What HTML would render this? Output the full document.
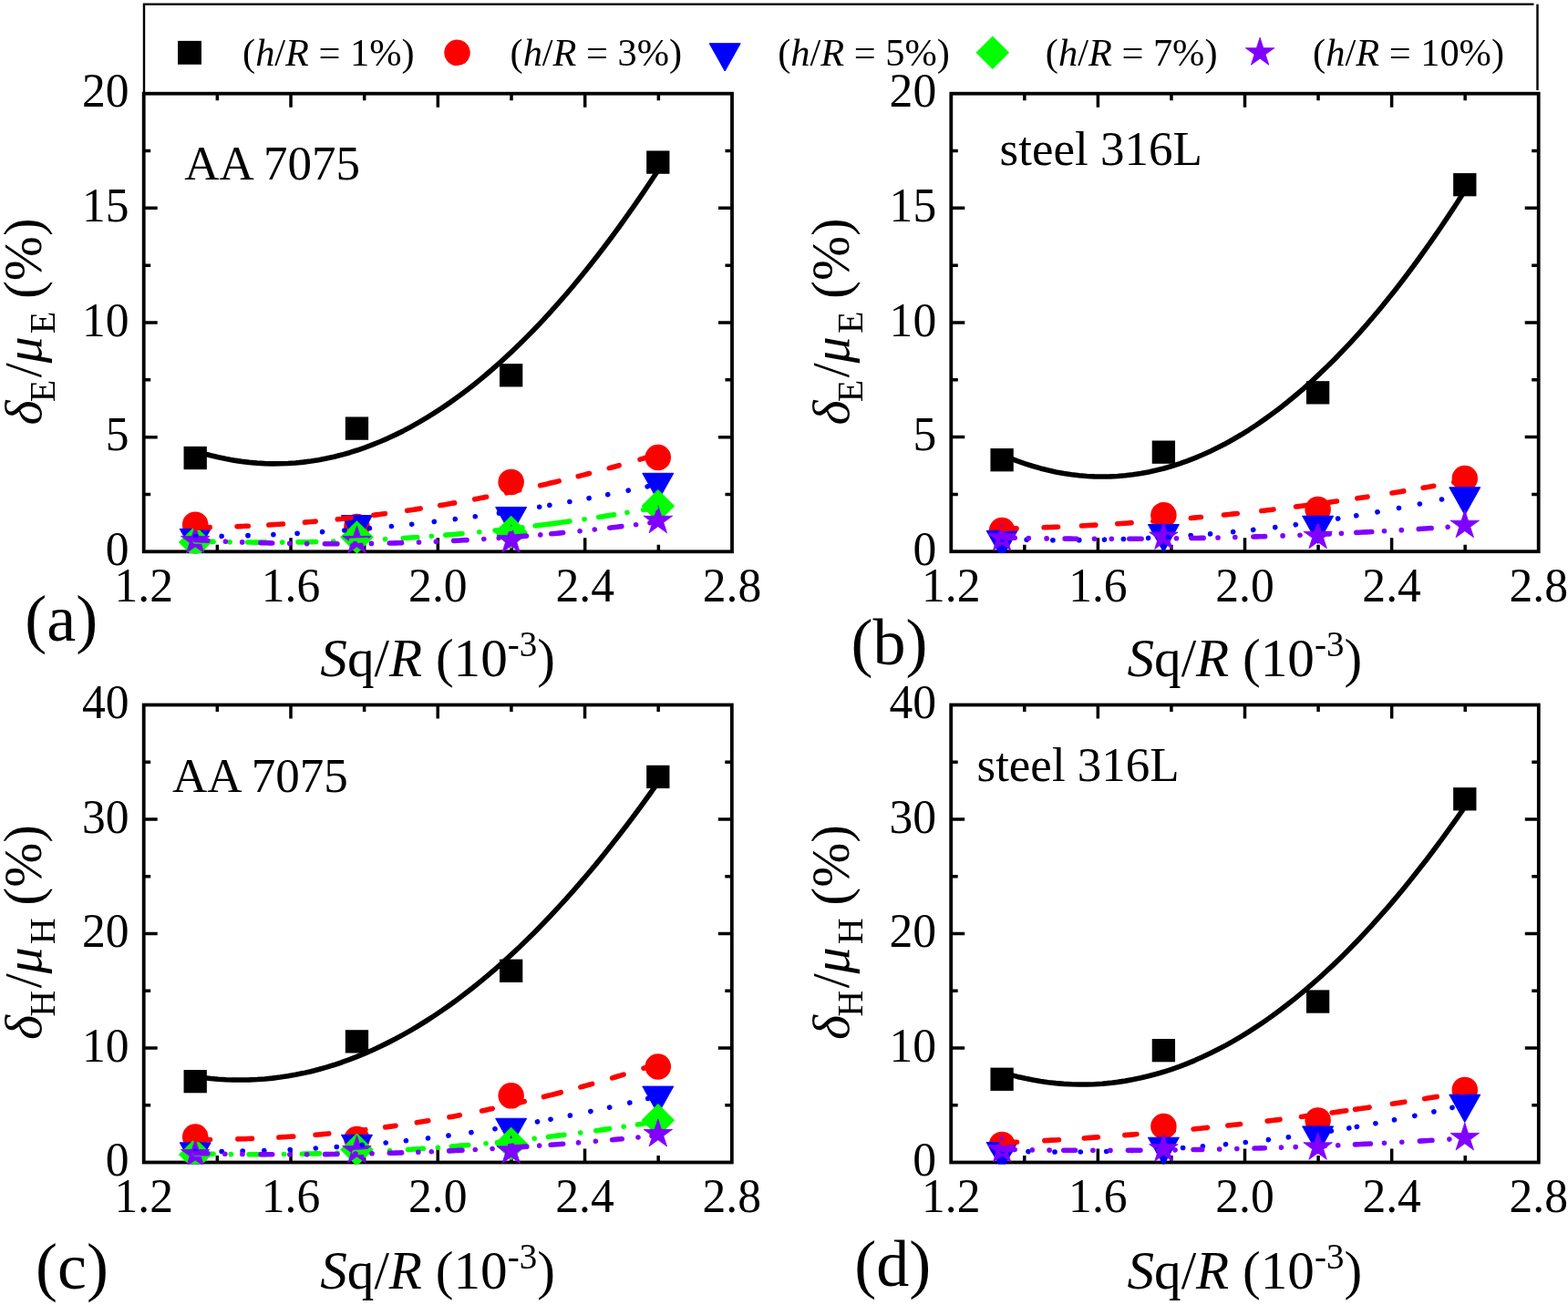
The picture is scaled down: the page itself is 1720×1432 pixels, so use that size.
<!DOCTYPE html>
<html lang="en"><head><meta charset="utf-8"><title>Figure</title>
<style>html,body{margin:0;padding:0;background:#fff}body{width:1720px;height:1432px;overflow:hidden}svg{display:block}text{font-family:'Liberation Serif', 'DejaVu Serif', serif;fill:#000}</style></head><body>
<svg width="1720" height="1432" viewBox="0 0 1720 1432">
<rect x="0" y="0" width="1720" height="1432" fill="#ffffff"/>
<g fill="none" stroke="#000" stroke-width="2.4">
<path d="M158,101 V4.6 H1682.5"/>
<path d="M1686.5,4.6 V99"/>
</g>
<rect x="195.05" y="44.85" width="25.9" height="25.9" fill="#000000"/>
<text x="266" y="72.2" font-size="42.4">(<tspan font-style="italic">h</tspan>/<tspan font-style="italic">R</tspan> = 1%)</text>
<circle cx="501.5" cy="57.8" r="14.25" fill="#ff0000"/>
<text x="559.5" y="72.2" font-size="42.4">(<tspan font-style="italic">h</tspan>/<tspan font-style="italic">R</tspan> = 3%)</text>
<polygon points="778.2,47.7 812.2,47.7 795.2,78" fill="#0000ff" stroke="#0000ff" stroke-width="1" stroke-linejoin="round"/>
<text x="853.2" y="72.2" font-size="42.4">(<tspan font-style="italic">h</tspan>/<tspan font-style="italic">R</tspan> = 5%)</text>
<polygon points="1070.5,57.8 1088.8,39.5 1107.1,57.8 1088.8,76.1" fill="#00ff00"/>
<text x="1146.8" y="72.2" font-size="42.4">(<tspan font-style="italic">h</tspan>/<tspan font-style="italic">R</tspan> = 7%)</text>
<polygon points="1382.1,41.2 1385.83,52.67 1397.89,52.67 1388.13,59.76 1391.86,71.23 1382.1,64.14 1372.34,71.23 1376.07,59.76 1366.31,52.67 1378.37,52.67" fill="#8000ff" stroke="#8000ff" stroke-width="0.8" stroke-linejoin="round"/>
<text x="1440.1" y="72.2" font-size="42.4">(<tspan font-style="italic">h</tspan>/<tspan font-style="italic">R</tspan> = 10%)</text>
<defs><clipPath id="clipa"><rect x="155.8" y="100.8" width="649.1" height="506.4"/></clipPath><clipPath id="clipb"><rect x="1041.4" y="100.8" width="648.2" height="506.3"/></clipPath><clipPath id="clipc"><rect x="155.8" y="771.6" width="648.9" height="505.8"/></clipPath><clipPath id="clipd"><rect x="1041.3" y="771.6" width="648.4" height="505.8"/></clipPath></defs>
<g id="plot-a">
<rect x="157.7" y="102.7" width="645.3" height="502.6" fill="#fff" stroke="#000" stroke-width="3.8"/>
<path d="M238.36,605.3 v-7.5 M238.36,102.7 v7.5 M319.02,605.3 v-15 M319.02,102.7 v15 M399.69,605.3 v-7.5 M399.69,102.7 v7.5 M480.35,605.3 v-15 M480.35,102.7 v15 M561.01,605.3 v-7.5 M561.01,102.7 v7.5 M641.68,605.3 v-15 M641.68,102.7 v15 M722.34,605.3 v-7.5 M722.34,102.7 v7.5 M157.7,542.47 h7.5 M803,542.47 h-7.5 M157.7,479.65 h15 M803,479.65 h-15 M157.7,416.82 h7.5 M803,416.82 h-7.5 M157.7,354 h15 M803,354 h-15 M157.7,291.17 h7.5 M803,291.17 h-7.5 M157.7,228.35 h15 M803,228.35 h-15 M157.7,165.52 h7.5 M803,165.52 h-7.5" stroke="#000" stroke-width="3.5" fill="none"/>
<text transform="translate(157.7,660.2) scale(1,1.025)" font-size="51.6" text-anchor="middle">1.2</text>
<text transform="translate(319.02,660.2) scale(1,1.025)" font-size="51.6" text-anchor="middle">1.6</text>
<text transform="translate(480.35,660.2) scale(1,1.025)" font-size="51.6" text-anchor="middle">2.0</text>
<text transform="translate(641.68,660.2) scale(1,1.025)" font-size="51.6" text-anchor="middle">2.4</text>
<text transform="translate(803,660.2) scale(1,1.025)" font-size="51.6" text-anchor="middle">2.8</text>
<text transform="translate(141.6,619.9) scale(1,1.025)" font-size="51.6" text-anchor="end">0</text>
<text transform="translate(141.6,494.25) scale(1,1.025)" font-size="51.6" text-anchor="end">5</text>
<text transform="translate(141.6,368.6) scale(1,1.025)" font-size="51.6" text-anchor="end">10</text>
<text transform="translate(141.6,242.95) scale(1,1.025)" font-size="51.6" text-anchor="end">15</text>
<text transform="translate(141.6,117.3) scale(1,1.025)" font-size="51.6" text-anchor="end">20</text>
<g clip-path="url(#clipa)">
<rect x="201.55" y="489.87" width="25.3" height="25.3" fill="#000000"/>
<rect x="378.81" y="457.45" width="25.3" height="25.3" fill="#000000"/>
<rect x="548.01" y="399.15" width="25.3" height="25.3" fill="#000000"/>
<rect x="709.15" y="165.44" width="25.3" height="25.3" fill="#000000"/>
<circle cx="214.2" cy="575.65" r="14.25" fill="#ff0000"/>
<circle cx="391.46" cy="577.91" r="14.25" fill="#ff0000"/>
<circle cx="560.66" cy="528.9" r="14.25" fill="#ff0000"/>
<circle cx="721.8" cy="502.02" r="14.25" fill="#ff0000"/>
<polygon points="197.2,580.37 231.2,580.37 214.2,610.67" fill="#0000ff" stroke="#0000ff" stroke-width="1" stroke-linejoin="round"/>
<polygon points="374.46,565.55 408.46,565.55 391.46,595.85" fill="#0000ff" stroke="#0000ff" stroke-width="1" stroke-linejoin="round"/>
<polygon points="543.66,556.5 577.66,556.5 560.66,586.8" fill="#0000ff" stroke="#0000ff" stroke-width="1" stroke-linejoin="round"/>
<polygon points="704.8,519.31 738.8,519.31 721.8,549.61" fill="#0000ff" stroke="#0000ff" stroke-width="1" stroke-linejoin="round"/>
<polygon points="195.9,595 214.2,576.7 232.5,595 214.2,613.3" fill="#00ff00"/>
<polygon points="373.16,589.47 391.46,571.17 409.76,589.47 391.46,607.77" fill="#00ff00"/>
<polygon points="542.36,583.94 560.66,565.64 578.96,583.94 560.66,602.24" fill="#00ff00"/>
<polygon points="703.5,555.29 721.8,536.99 740.1,555.29 721.8,573.59" fill="#00ff00"/>
<polygon points="214.2,576.89 217.93,588.36 229.99,588.36 220.23,595.45 223.96,606.92 214.2,599.83 204.44,606.92 208.17,595.45 198.41,588.36 210.47,588.36" fill="#8000ff" stroke="#8000ff" stroke-width="0.8" stroke-linejoin="round"/>
<polygon points="391.46,576.89 395.18,588.36 407.24,588.36 397.49,595.45 401.21,606.92 391.46,599.83 381.7,606.92 385.43,595.45 375.67,588.36 387.73,588.36" fill="#8000ff" stroke="#8000ff" stroke-width="0.8" stroke-linejoin="round"/>
<polygon points="560.66,576.13 564.38,587.6 576.44,587.61 566.69,594.69 570.41,606.16 560.66,599.08 550.9,606.16 554.63,594.69 544.87,587.61 556.93,587.6" fill="#8000ff" stroke="#8000ff" stroke-width="0.8" stroke-linejoin="round"/>
<polygon points="721.8,554.77 725.53,566.24 737.59,566.24 727.83,573.33 731.56,584.8 721.8,577.72 712.04,584.8 715.77,573.33 706.01,566.24 718.07,566.24" fill="#8000ff" stroke="#8000ff" stroke-width="0.8" stroke-linejoin="round"/>
<polyline points="214.2,494.87 222.66,497.44 231.12,499.75 239.58,501.8 248.04,503.59 256.5,505.12 264.96,506.38 273.42,507.39 281.88,508.13 290.34,508.62 298.8,508.84 307.26,508.8 315.72,508.5 324.18,507.94 332.64,507.12 341.1,506.03 349.56,504.69 358.02,503.08 366.48,501.21 374.94,499.08 383.4,496.69 391.86,494.04 400.32,491.13 408.78,487.96 417.24,484.52 425.7,480.83 434.16,476.87 442.62,472.65 451.08,468.17 459.54,463.43 468,458.43 476.46,453.16 484.92,447.64 493.38,441.86 501.84,435.81 510.3,429.5 518.76,422.93 527.22,416.1 535.68,409.01 544.14,401.66 552.6,394.04 561.06,386.17 569.52,378.03 577.98,369.63 586.44,360.98 594.9,352.06 603.36,342.88 611.82,333.43 620.28,323.73 628.74,313.77 637.2,303.54 645.66,293.05 654.12,282.3 662.58,271.3 671.04,260.03 679.5,248.49 687.96,236.7 696.42,224.65 704.88,212.33 713.34,199.75 721.8,186.92" fill="none" stroke="#000000" stroke-width="5.6" stroke-linecap="round" stroke-linejoin="round"/>
<path d="M214.4,578.95 L218.35,578.89 L222.3,578.82 L226.25,578.74 L230.2,578.66 M260.1,577.71 L263.15,577.59 L266.2,577.46 L269.25,577.32 L272.3,577.18 M294.9,575.97 L298.8,575.73 L302.7,575.49 L306.6,575.23 L310.5,574.97 M334.4,573.15 L338.37,572.82 L342.33,572.48 L346.3,572.13 M370.2,569.83 L373.9,569.44 L377.6,569.05 L381.3,568.65 L385,568.24 M409.8,565.3 L412.95,564.9 L416.1,564.49 L419.25,564.08 L422.4,563.67 M446.6,560.28 L450.25,559.74 L453.9,559.19 L457.55,558.64 L461.2,558.08 M482.7,554.61 L486.67,553.94 L490.65,553.26 L494.62,552.57 L498.6,551.87 M520.7,547.83 L523.92,547.22 L527.15,546.6 L530.38,545.97 L533.6,545.34 M555.8,540.84 L559.27,540.1 L562.75,539.37 L566.23,538.62 L569.7,537.87 M592.6,532.74 L596.03,531.95 L599.47,531.15 L602.9,530.34 L606.33,529.53 L609.77,528.71 L613.2,527.88 M634.2,522.67 L637.27,521.88 L640.35,521.09 L643.42,520.3 L646.5,519.5 M668.3,513.66 L671.9,512.68 L675.5,511.68 L679.1,510.68 M702,504.12 L705.55,503.07 L709.1,502.02 L712.65,500.96 L716.2,499.9" fill="none" stroke="#ff0000" stroke-width="5.6" stroke-linecap="round" stroke-linejoin="round"/>
<path d="M214.65,588.81 L214.75,588.81 M243.15,588.41 L243.25,588.4 M271.95,587.65 L272.05,587.65 M299.85,586.6 L299.95,586.59 M326.05,585.31 L326.15,585.31 M353.55,583.66 L353.65,583.65 M377.85,581.93 L377.95,581.93 M405.35,579.69 L405.45,579.68 M429.35,577.47 L429.45,577.46 M451.65,575.2 L451.75,575.19 M476.25,572.46 L476.35,572.44 M499.25,569.66 L499.35,569.65 M521.25,566.78 L521.35,566.77 M547.45,563.1 L547.55,563.08 M569.45,559.78 L569.55,559.77 M591.65,556.23 L591.75,556.22 M602.85,554.36 L602.95,554.35 M624.85,550.54 L624.95,550.53 M646.05,546.67 L646.15,546.65 M666.65,542.73 L666.75,542.71 M689.15,538.23 L689.25,538.21 M710.15,533.84 L710.25,533.81" fill="none" stroke="#0000ff" stroke-width="5.6" stroke-linecap="round" stroke-linejoin="round"/>
<path d="M214.4,593.85 L218.32,593.97 L222.24,594.09 L226.16,594.21 L230.08,594.31 L234,594.41 M251.95,594.79 L252.05,594.79 M271.7,595.04 L275.6,595.07 L279.5,595.1 L283.4,595.12 L287.3,595.13 L291.2,595.14 M309.65,595.08 L309.75,595.08 M327.1,594.89 L331,594.83 L334.9,594.77 L338.8,594.7 L342.7,594.62 L346.6,594.53 M365.65,594.03 L365.75,594.03 M385.5,593.34 L388.8,593.21 L392.1,593.08 L395.4,592.94 L398.7,592.79 L402,592.64 M422.55,591.62 L422.65,591.61 M442.4,590.46 L446.25,590.21 L450.1,589.96 L453.95,589.71 L457.8,589.44 M473.35,588.32 L473.45,588.31 M488.7,587.11 L492.36,586.81 L496.02,586.5 L499.68,586.18 L503.34,585.87 L507,585.54 M525.75,583.79 L525.85,583.78 M543,582.04 L546.44,581.68 L549.88,581.31 L553.32,580.94 L556.76,580.56 L560.2,580.18 M572.95,578.72 L573.05,578.71 M587.1,577.02 L590.89,576.55 L594.68,576.07 L598.47,575.59 L602.26,575.1 L606.05,574.61 L609.84,574.11 L613.63,573.6 L617.42,573.09 L621.21,572.57 L625,572.05 M641.05,569.76 L641.15,569.75 M656.7,567.43 L660.08,566.91 L663.46,566.39 L666.84,565.86 L670.22,565.33 L673.6,564.79 M687.85,562.48 L687.95,562.46 M705.6,559.48 L709,558.89 L712.4,558.29 L715.8,557.69 L719.2,557.09" fill="none" stroke="#00ff00" stroke-width="5.6" stroke-linecap="round" stroke-linejoin="round"/>
<path d="M214.4,592.5 L217.75,592.69 L221.1,592.88 L224.45,593.06 L227.8,593.23 M247.35,594.17 L247.45,594.18 M265.65,594.92 L265.75,594.92 M286,595.6 L289.18,595.69 L292.35,595.78 L295.52,595.87 L298.7,595.95 M317.65,596.35 L317.75,596.35 M336.55,596.62 L336.65,596.62 M356.4,596.75 L359.78,596.76 L363.15,596.76 L366.52,596.76 L369.9,596.76 M389.45,596.64 L389.55,596.64 M407.35,596.41 L407.45,596.41 M427.3,596.01 L430.6,595.93 L433.9,595.84 L437.2,595.75 L440.5,595.66 M459.45,595.04 L459.55,595.04 M478.35,594.29 L478.45,594.29 M497.7,593.39 L501.27,593.2 L504.85,593.01 L508.42,592.82 L512,592.62 M530.75,591.51 L530.85,591.5 M547.15,590.42 L547.25,590.41 M564.8,589.14 L568,588.89 L571.2,588.64 L574.4,588.39 L577.6,588.13 M592.75,586.86 L592.85,586.85 M604.7,585.8 L607.95,585.5 L611.2,585.2 L614.45,584.89 L617.7,584.58 M636.05,582.76 L636.15,582.75 M652.25,581.04 L652.35,581.03 M668.7,579.19 L672,578.81 L675.3,578.42 L678.6,578.03 L681.9,577.63 M697.55,575.7 L697.65,575.69 M712.95,573.71 L713.05,573.7" fill="none" stroke="#8000ff" stroke-width="5.6" stroke-linecap="round" stroke-linejoin="round"/>
</g>
<text x="480.15" y="742.4" font-size="59.2" text-anchor="middle"><tspan font-style="italic">S</tspan>q/<tspan font-style="italic">R</tspan> (10<tspan font-size="39" dy="-22">-3</tspan><tspan dy="22">)</tspan></text>
<text transform="translate(45,466.5) rotate(-90)" font-size="58"><tspan x="0" font-style="italic">δ</tspan><tspan x="25.27" y="15.2" font-size="40">E</tspan><tspan x="52.31" y="0">/</tspan><tspan x="68.03" y="0" font-style="italic">μ</tspan><tspan x="100.35" y="15.2" font-size="40">E</tspan><tspan x="138.69" y="0" font-size="59">(%)</tspan></text>
</g>
<g id="plot-b">
<rect x="1043.3" y="102.7" width="644.4" height="502.5" fill="#fff" stroke="#000" stroke-width="3.8"/>
<path d="M1123.85,605.2 v-7.5 M1123.85,102.7 v7.5 M1204.4,605.2 v-15 M1204.4,102.7 v15 M1284.95,605.2 v-7.5 M1284.95,102.7 v7.5 M1365.5,605.2 v-15 M1365.5,102.7 v15 M1446.05,605.2 v-7.5 M1446.05,102.7 v7.5 M1526.6,605.2 v-15 M1526.6,102.7 v15 M1607.15,605.2 v-7.5 M1607.15,102.7 v7.5 M1043.3,542.39 h7.5 M1687.7,542.39 h-7.5 M1043.3,479.58 h15 M1687.7,479.58 h-15 M1043.3,416.76 h7.5 M1687.7,416.76 h-7.5 M1043.3,353.95 h15 M1687.7,353.95 h-15 M1043.3,291.14 h7.5 M1687.7,291.14 h-7.5 M1043.3,228.32 h15 M1687.7,228.32 h-15 M1043.3,165.51 h7.5 M1687.7,165.51 h-7.5" stroke="#000" stroke-width="3.5" fill="none"/>
<text transform="translate(1043.3,660.1) scale(1,1.025)" font-size="51.6" text-anchor="middle">1.2</text>
<text transform="translate(1204.4,660.1) scale(1,1.025)" font-size="51.6" text-anchor="middle">1.6</text>
<text transform="translate(1365.5,660.1) scale(1,1.025)" font-size="51.6" text-anchor="middle">2.0</text>
<text transform="translate(1526.6,660.1) scale(1,1.025)" font-size="51.6" text-anchor="middle">2.4</text>
<text transform="translate(1687.7,660.1) scale(1,1.025)" font-size="51.6" text-anchor="middle">2.8</text>
<text transform="translate(1027.2,619.8) scale(1,1.025)" font-size="51.6" text-anchor="end">0</text>
<text transform="translate(1027.2,494.18) scale(1,1.025)" font-size="51.6" text-anchor="end">5</text>
<text transform="translate(1027.2,368.55) scale(1,1.025)" font-size="51.6" text-anchor="end">10</text>
<text transform="translate(1027.2,242.92) scale(1,1.025)" font-size="51.6" text-anchor="end">15</text>
<text transform="translate(1027.2,117.3) scale(1,1.025)" font-size="51.6" text-anchor="end">20</text>
<g clip-path="url(#clipb)">
<rect x="1086.45" y="492.05" width="25.3" height="25.3" fill="#000000"/>
<rect x="1263.74" y="483.51" width="25.3" height="25.3" fill="#000000"/>
<rect x="1432.98" y="418.18" width="25.3" height="25.3" fill="#000000"/>
<rect x="1594.15" y="190.05" width="25.3" height="25.3" fill="#000000"/>
<circle cx="1099.1" cy="582.09" r="14.25" fill="#ff0000"/>
<circle cx="1276.39" cy="565.25" r="14.25" fill="#ff0000"/>
<circle cx="1445.63" cy="558.97" r="14.25" fill="#ff0000"/>
<circle cx="1606.8" cy="525.05" r="14.25" fill="#ff0000"/>
<polygon points="1082.1,582.29 1116.1,582.29 1099.1,612.59" fill="#0000ff" stroke="#0000ff" stroke-width="1" stroke-linejoin="round"/>
<polygon points="1259.39,575.5 1293.39,575.5 1276.39,605.8" fill="#0000ff" stroke="#0000ff" stroke-width="1" stroke-linejoin="round"/>
<polygon points="1428.63,566.21 1462.63,566.21 1445.63,596.51" fill="#0000ff" stroke="#0000ff" stroke-width="1" stroke-linejoin="round"/>
<polygon points="1589.8,534.8 1623.8,534.8 1606.8,565.1" fill="#0000ff" stroke="#0000ff" stroke-width="1" stroke-linejoin="round"/>
<polygon points="1099.1,574.03 1102.83,585.5 1114.89,585.5 1105.13,592.59 1108.86,604.06 1099.1,596.97 1089.34,604.06 1093.07,592.59 1083.31,585.5 1095.37,585.5" fill="#8000ff" stroke="#8000ff" stroke-width="0.8" stroke-linejoin="round"/>
<polygon points="1276.39,572.52 1280.12,583.99 1292.18,583.99 1282.42,591.08 1286.15,602.55 1276.39,595.46 1266.63,602.55 1270.36,591.08 1260.6,583.99 1272.66,583.99" fill="#8000ff" stroke="#8000ff" stroke-width="0.8" stroke-linejoin="round"/>
<polygon points="1445.63,571.77 1449.35,583.24 1461.41,583.24 1451.66,590.33 1455.38,601.8 1445.63,594.71 1435.87,601.8 1439.59,590.33 1429.84,583.24 1441.9,583.24" fill="#8000ff" stroke="#8000ff" stroke-width="0.8" stroke-linejoin="round"/>
<polygon points="1606.8,559.71 1610.53,571.18 1622.59,571.18 1612.83,578.27 1616.56,589.74 1606.8,582.65 1597.04,589.74 1600.77,578.27 1591.01,571.18 1603.07,571.18" fill="#8000ff" stroke="#8000ff" stroke-width="0.8" stroke-linejoin="round"/>
<polyline points="1099.1,499.01 1107.56,502.56 1116.02,505.83 1124.48,508.82 1132.95,511.52 1141.41,513.93 1149.87,516.06 1158.33,517.91 1166.79,519.48 1175.25,520.76 1183.72,521.75 1192.18,522.46 1200.64,522.89 1209.1,523.03 1217.56,522.89 1226.02,522.47 1234.49,521.76 1242.95,520.76 1251.41,519.49 1259.87,517.92 1268.33,516.08 1276.79,513.95 1285.26,511.53 1293.72,508.84 1302.18,505.85 1310.64,502.59 1319.1,499.04 1327.56,495.2 1336.03,491.08 1344.49,486.68 1352.95,481.99 1361.41,477.02 1369.87,471.77 1378.34,466.23 1386.8,460.4 1395.26,454.29 1403.72,447.9 1412.18,441.23 1420.64,434.27 1429.11,427.02 1437.57,419.49 1446.03,411.68 1454.49,403.59 1462.95,395.2 1471.41,386.54 1479.88,377.59 1488.34,368.36 1496.8,358.84 1505.26,349.04 1513.72,338.95 1522.18,328.58 1530.64,317.93 1539.11,306.99 1547.57,295.77 1556.03,284.26 1564.49,272.47 1572.95,260.4 1581.41,248.04 1589.88,235.4 1598.34,222.47 1606.8,209.26" fill="none" stroke="#000000" stroke-width="5.6" stroke-linecap="round" stroke-linejoin="round"/>
<path d="M1099.7,580.23 L1103.53,580.14 L1107.35,580.04 L1111.17,579.94 L1115,579.83 M1145.2,578.81 L1149.03,578.66 L1152.85,578.51 L1156.67,578.35 L1160.5,578.19 M1186.5,576.95 L1190.33,576.76 L1194.15,576.55 L1197.97,576.34 L1201.8,576.13 M1225.8,574.68 L1229.62,574.43 L1233.45,574.18 L1237.28,573.93 L1241.1,573.66 M1264.8,571.94 L1268.65,571.64 L1272.5,571.34 L1276.35,571.04 L1280.2,570.72 M1306.3,568.49 L1310.03,568.16 L1313.77,567.81 L1317.5,567.47 M1342.4,565.05 L1346.12,564.67 L1349.85,564.28 L1353.57,563.9 L1357.3,563.5 M1383.8,560.58 L1387.1,560.21 L1390.4,559.82 L1393.7,559.44 L1397,559.05 M1421.5,556.05 L1424.67,555.64 L1427.85,555.24 L1431.03,554.83 L1434.2,554.42 M1454.8,551.66 L1458.7,551.13 L1462.6,550.59 L1466.5,550.04 M1488.8,546.82 L1492.53,546.27 L1496.27,545.71 L1500,545.15 M1527,540.95 L1530.2,540.43 L1533.4,539.92 L1536.6,539.4 L1539.8,538.87 M1561.1,535.31 L1564.97,534.65 L1568.83,533.98 L1572.7,533.31 M1594.8,529.37 L1597.93,528.8 L1601.07,528.23 L1604.2,527.65" fill="none" stroke="#ff0000" stroke-width="5.6" stroke-linecap="round" stroke-linejoin="round"/>
<path d="M1099.75,591.63 L1099.85,591.63 M1126.15,592.34 L1126.25,592.34 M1154.85,592.7 L1154.95,592.7 M1183.65,592.63 L1183.75,592.63 M1211.45,592.17 L1211.55,592.16 M1232.35,591.55 L1232.45,591.55 M1259.55,590.42 L1259.65,590.41 M1281.35,589.23 L1281.45,589.22 M1306.15,587.58 L1306.25,587.58 M1327.55,585.91 L1327.65,585.9 M1352.65,583.64 L1352.75,583.63 M1374.65,581.39 L1374.75,581.37 M1398.75,578.63 L1398.85,578.62 M1421.25,575.79 L1421.35,575.77 M1444.45,572.58 L1444.55,572.57 M1467.65,569.1 L1467.75,569.08 M1487.75,565.86 L1487.85,565.84 M1510.95,561.86 L1511.05,561.84 M1534.45,557.52 L1534.55,557.5 M1557.35,553.02 L1557.45,553 M1581.45,548 L1581.55,547.98 M1603.95,543.03 L1604.05,543.01" fill="none" stroke="#0000ff" stroke-width="5.6" stroke-linecap="round" stroke-linejoin="round"/>
<path d="M1099.7,590.04 L1103.08,590.12 L1106.45,590.19 L1109.83,590.26 L1113.2,590.32 M1128.25,590.6 L1128.35,590.6 M1148.05,590.89 L1148.15,590.89 M1168.2,591.11 L1171.38,591.14 L1174.55,591.17 L1177.73,591.19 L1180.9,591.21 M1200.45,591.31 L1200.55,591.31 M1219.25,591.33 L1219.35,591.33 M1238.8,591.29 L1242.12,591.27 L1245.45,591.26 L1248.78,591.24 L1252.1,591.22 M1271.95,591.05 L1272.05,591.05 M1290.45,590.82 L1290.55,590.82 M1306.9,590.57 L1310.2,590.51 L1313.5,590.45 L1316.8,590.39 L1320.1,590.33 M1335.95,589.99 L1336.05,589.99 M1354.75,589.54 L1354.85,589.54 M1374.9,588.98 L1378.07,588.88 L1381.25,588.78 L1384.43,588.68 L1387.6,588.58 M1407.05,587.92 L1407.15,587.92 M1425.95,587.21 L1426.05,587.2 M1445.8,586.39 L1448.9,586.25 L1452,586.12 L1455.1,585.98 L1458.2,585.84 M1471.35,585.22 L1471.45,585.22 M1487.8,584.41 L1491.18,584.24 L1494.56,584.06 L1497.94,583.88 L1501.32,583.7 L1504.7,583.52 M1518.45,582.75 L1518.55,582.75 M1537.25,581.65 L1537.35,581.65 M1556.3,580.47 L1559.75,580.25 L1563.2,580.02 L1566.65,579.79 L1570.1,579.57 M1588.05,578.34 L1588.15,578.33 M1602.95,577.28 L1603.05,577.27" fill="none" stroke="#8000ff" stroke-width="5.6" stroke-linecap="round" stroke-linejoin="round"/>
</g>
<text x="1365.3" y="742.3" font-size="59.2" text-anchor="middle"><tspan font-style="italic">S</tspan>q/<tspan font-style="italic">R</tspan> (10<tspan font-size="39" dy="-22">-3</tspan><tspan dy="22">)</tspan></text>
<text transform="translate(930.6,466.45) rotate(-90)" font-size="58"><tspan x="0" font-style="italic">δ</tspan><tspan x="25.27" y="15.2" font-size="40">E</tspan><tspan x="52.31" y="0">/</tspan><tspan x="68.03" y="0" font-style="italic">μ</tspan><tspan x="100.35" y="15.2" font-size="40">E</tspan><tspan x="138.69" y="0" font-size="59">(%)</tspan></text>
</g>
<g id="plot-c">
<rect x="157.7" y="773.5" width="645.1" height="502" fill="#fff" stroke="#000" stroke-width="3.8"/>
<path d="M238.34,1275.5 v-7.5 M238.34,773.5 v7.5 M318.98,1275.5 v-15 M318.98,773.5 v15 M399.61,1275.5 v-7.5 M399.61,773.5 v7.5 M480.25,1275.5 v-15 M480.25,773.5 v15 M560.89,1275.5 v-7.5 M560.89,773.5 v7.5 M641.53,1275.5 v-15 M641.53,773.5 v15 M722.16,1275.5 v-7.5 M722.16,773.5 v7.5 M157.7,1212.75 h7.5 M802.8,1212.75 h-7.5 M157.7,1150 h15 M802.8,1150 h-15 M157.7,1087.25 h7.5 M802.8,1087.25 h-7.5 M157.7,1024.5 h15 M802.8,1024.5 h-15 M157.7,961.75 h7.5 M802.8,961.75 h-7.5 M157.7,899 h15 M802.8,899 h-15 M157.7,836.25 h7.5 M802.8,836.25 h-7.5" stroke="#000" stroke-width="3.5" fill="none"/>
<text transform="translate(157.7,1330.4) scale(1,1.025)" font-size="51.6" text-anchor="middle">1.2</text>
<text transform="translate(318.98,1330.4) scale(1,1.025)" font-size="51.6" text-anchor="middle">1.6</text>
<text transform="translate(480.25,1330.4) scale(1,1.025)" font-size="51.6" text-anchor="middle">2.0</text>
<text transform="translate(641.53,1330.4) scale(1,1.025)" font-size="51.6" text-anchor="middle">2.4</text>
<text transform="translate(802.8,1330.4) scale(1,1.025)" font-size="51.6" text-anchor="middle">2.8</text>
<text transform="translate(141.6,1290.1) scale(1,1.025)" font-size="51.6" text-anchor="end">0</text>
<text transform="translate(141.6,1164.6) scale(1,1.025)" font-size="51.6" text-anchor="end">10</text>
<text transform="translate(141.6,1039.1) scale(1,1.025)" font-size="51.6" text-anchor="end">20</text>
<text transform="translate(141.6,913.6) scale(1,1.025)" font-size="51.6" text-anchor="end">30</text>
<text transform="translate(141.6,788.1) scale(1,1.025)" font-size="51.6" text-anchor="end">40</text>
<g clip-path="url(#clipc)">
<rect x="201.55" y="1174" width="25.3" height="25.3" fill="#000000"/>
<rect x="378.81" y="1130.2" width="25.3" height="25.3" fill="#000000"/>
<rect x="548.01" y="1052.64" width="25.3" height="25.3" fill="#000000"/>
<rect x="709.15" y="839.79" width="25.3" height="25.3" fill="#000000"/>
<circle cx="214.2" cy="1247.51" r="14.25" fill="#ff0000"/>
<circle cx="391.46" cy="1250.02" r="14.25" fill="#ff0000"/>
<circle cx="560.66" cy="1202.33" r="14.25" fill="#ff0000"/>
<circle cx="721.8" cy="1170.46" r="14.25" fill="#ff0000"/>
<polygon points="197.2,1253.85 231.2,1253.85 214.2,1284.15" fill="#0000ff" stroke="#0000ff" stroke-width="1" stroke-linejoin="round"/>
<polygon points="374.46,1245.32 408.46,1245.32 391.46,1275.62" fill="#0000ff" stroke="#0000ff" stroke-width="1" stroke-linejoin="round"/>
<polygon points="543.66,1227.25 577.66,1227.25 560.66,1257.55" fill="#0000ff" stroke="#0000ff" stroke-width="1" stroke-linejoin="round"/>
<polygon points="704.8,1192.11 738.8,1192.11 721.8,1222.41" fill="#0000ff" stroke="#0000ff" stroke-width="1" stroke-linejoin="round"/>
<polygon points="195.9,1266.97 214.2,1248.67 232.5,1266.97 214.2,1285.27" fill="#00ff00"/>
<polygon points="373.16,1261.44 391.46,1243.14 409.76,1261.44 391.46,1279.74" fill="#00ff00"/>
<polygon points="542.36,1255.04 560.66,1236.74 578.96,1255.04 560.66,1273.34" fill="#00ff00"/>
<polygon points="703.5,1229.32 721.8,1211.02 740.1,1229.32 721.8,1247.62" fill="#00ff00"/>
<polygon points="214.2,1249.99 217.93,1261.46 229.99,1261.46 220.23,1268.55 223.96,1280.02 214.2,1272.93 204.44,1280.02 208.17,1268.55 198.41,1261.46 210.47,1261.46" fill="#8000ff" stroke="#8000ff" stroke-width="0.8" stroke-linejoin="round"/>
<polygon points="391.46,1245.97 395.18,1257.44 407.24,1257.44 397.49,1264.53 401.21,1276 391.46,1268.91 381.7,1276 385.43,1264.53 375.67,1257.44 387.73,1257.44" fill="#8000ff" stroke="#8000ff" stroke-width="0.8" stroke-linejoin="round"/>
<polygon points="560.66,1246.35 564.38,1257.82 576.44,1257.82 566.69,1264.91 570.41,1276.38 560.66,1269.29 550.9,1276.38 554.63,1264.91 544.87,1257.82 556.93,1257.82" fill="#8000ff" stroke="#8000ff" stroke-width="0.8" stroke-linejoin="round"/>
<polygon points="721.8,1227.9 725.53,1239.37 737.59,1239.37 727.83,1246.46 731.56,1257.93 721.8,1250.84 712.04,1257.93 715.77,1246.46 706.01,1239.37 718.07,1239.37" fill="#8000ff" stroke="#8000ff" stroke-width="0.8" stroke-linejoin="round"/>
<polyline points="214.2,1181.33 222.66,1182.51 231.12,1183.47 239.58,1184.2 248.04,1184.71 256.5,1185 264.96,1185.07 273.42,1184.92 281.88,1184.54 290.34,1183.94 298.8,1183.12 307.26,1182.08 315.72,1180.81 324.18,1179.32 332.64,1177.61 341.1,1175.68 349.56,1173.52 358.02,1171.14 366.48,1168.54 374.94,1165.72 383.4,1162.68 391.86,1159.41 400.32,1155.92 408.78,1152.21 417.24,1148.27 425.7,1144.12 434.16,1139.74 442.62,1135.14 451.08,1130.31 459.54,1125.27 468,1120 476.46,1114.51 484.92,1108.8 493.38,1102.86 501.84,1096.7 510.3,1090.32 518.76,1083.72 527.22,1076.9 535.68,1069.85 544.14,1062.58 552.6,1055.09 561.06,1047.38 569.52,1039.44 577.98,1031.28 586.44,1022.9 594.9,1014.3 603.36,1005.47 611.82,996.42 620.28,987.15 628.74,977.66 637.2,967.95 645.66,958.01 654.12,947.85 662.58,937.47 671.04,926.86 679.5,916.04 687.96,904.99 696.42,893.72 704.88,882.22 713.34,870.51 721.8,858.57" fill="none" stroke="#000000" stroke-width="5.6" stroke-linecap="round" stroke-linejoin="round"/>
<path d="M214.4,1250.46 L217.62,1250.47 L220.84,1250.47 L224.06,1250.47 L227.28,1250.46 L230.5,1250.44 M260.9,1249.92 L264.8,1249.81 L268.7,1249.69 L272.6,1249.56 L276.5,1249.42 M305.9,1248.04 L309.85,1247.81 L313.8,1247.57 L317.75,1247.32 L321.7,1247.06 M346,1245.23 L349.7,1244.92 L353.4,1244.6 L357.1,1244.27 L360.8,1243.93 M385.8,1241.39 L389.55,1240.97 L393.3,1240.55 L397.05,1240.11 L400.8,1239.67 M422.6,1236.9 L426.4,1236.39 L430.2,1235.86 L434,1235.33 M457.3,1231.84 L460.43,1231.35 L463.55,1230.85 L466.68,1230.34 L469.8,1229.83 M492.9,1225.83 L496.7,1225.14 L500.5,1224.43 L504.3,1223.72 M528.6,1218.95 L532.47,1218.15 L536.33,1217.35 L540.2,1216.53 M561.8,1211.79 L565.15,1211.03 L568.5,1210.26 L571.85,1209.48 L575.2,1208.7 M596.5,1203.53 L600.26,1202.59 L604.02,1201.64 L607.78,1200.68 L611.54,1199.71 L615.3,1198.73 M636.9,1192.91 L640.08,1192.03 L643.25,1191.14 L646.42,1190.25 L649.6,1189.35 M671.6,1182.92 L674.7,1181.99 L677.8,1181.05 L680.9,1180.11 L684,1179.16 M706,1172.23 L709.4,1171.13 L712.8,1170.03 L716.2,1168.91" fill="none" stroke="#ff0000" stroke-width="5.6" stroke-linecap="round" stroke-linejoin="round"/>
<path d="M214.65,1263.51 L214.75,1263.51 M243.15,1263.48 L243.25,1263.48 M266.15,1263.16 L266.25,1263.16 M289.75,1262.57 L289.85,1262.56 M318.15,1261.48 L318.25,1261.47 M346.25,1260.01 L346.35,1260 M369.25,1258.51 L369.35,1258.51 M397.25,1256.34 L397.35,1256.33 M423.15,1253.98 L423.25,1253.97 M445.35,1251.69 L445.45,1251.68 M469.45,1248.93 L469.55,1248.92 M491.95,1246.1 L492.05,1246.08 M516.85,1242.67 L516.95,1242.65 M542.95,1238.74 L543.05,1238.72 M565.95,1235 L566.05,1234.98 M589.45,1230.9 L589.55,1230.88 M603.95,1228.24 L604.05,1228.22 M625.35,1224.12 L625.45,1224.1 M647.85,1219.54 L647.95,1219.52 M668.55,1215.11 L668.65,1215.08 M690.75,1210.11 L690.85,1210.09 M710.65,1205.43 L710.75,1205.41" fill="none" stroke="#0000ff" stroke-width="5.6" stroke-linecap="round" stroke-linejoin="round"/>
<path d="M214.4,1266.04 L218.32,1266.13 L222.24,1266.21 L226.16,1266.29 L230.08,1266.36 L234,1266.42 M253.35,1266.66 L253.45,1266.66 M273.1,1266.76 L276.72,1266.77 L280.34,1266.77 L283.96,1266.76 L287.58,1266.75 L291.2,1266.73 M311.45,1266.55 L311.55,1266.55 M331.3,1266.23 L335.14,1266.15 L338.98,1266.07 L342.82,1265.98 L346.66,1265.88 L350.5,1265.78 M369.95,1265.18 L370.05,1265.18 M389,1264.47 L392.25,1264.33 L395.5,1264.19 L398.75,1264.05 L402,1263.9 M427.55,1262.61 L427.65,1262.6 M447.5,1261.43 L450.86,1261.22 L454.22,1261 L457.58,1260.78 L460.94,1260.55 L464.3,1260.32 M480.25,1259.18 L480.35,1259.17 M495.3,1258.01 L499,1257.71 L502.7,1257.41 L506.4,1257.1 L510.1,1256.78 L513.8,1256.46 M532.95,1254.73 L533.05,1254.72 M545.5,1253.52 L549.04,1253.17 L552.58,1252.81 L556.12,1252.45 L559.66,1252.08 L563.2,1251.71 M586.15,1249.2 L586.25,1249.19 M601.3,1247.44 L604.82,1247.01 L608.34,1246.59 L611.86,1246.15 L615.38,1245.72 L618.9,1245.28 M636.65,1242.99 L636.75,1242.97 M653.6,1240.69 L657.35,1240.17 L661.1,1239.64 L664.85,1239.11 L668.6,1238.57 M684.15,1236.29 L684.25,1236.27 M699.4,1233.96 L702.96,1233.4 L706.52,1232.84 L710.08,1232.28 L713.64,1231.71 L717.2,1231.14" fill="none" stroke="#00ff00" stroke-width="5.6" stroke-linecap="round" stroke-linejoin="round"/>
<path d="M214.4,1265.47 L217.75,1265.55 L221.1,1265.64 L224.45,1265.72 L227.8,1265.8 M246.75,1266.19 L246.85,1266.19 M265.85,1266.49 L265.95,1266.49 M286,1266.7 L289.18,1266.73 L292.35,1266.75 L295.52,1266.77 L298.7,1266.79 M317.85,1266.83 L317.95,1266.83 M336.55,1266.78 L336.65,1266.78 M356.6,1266.63 L359.93,1266.6 L363.25,1266.56 L366.57,1266.52 L369.9,1266.48 M389.95,1266.15 L390.05,1266.15 M407.95,1265.78 L408.05,1265.78 M427.3,1265.28 L430.6,1265.18 L433.9,1265.09 L437.2,1264.99 L440.5,1264.88 M458.75,1264.26 L458.85,1264.26 M473.25,1263.71 L473.35,1263.7 M492.7,1262.88 L496.27,1262.72 L499.85,1262.55 L503.43,1262.38 L507,1262.21 M521.25,1261.49 L521.35,1261.48 M540.05,1260.46 L540.15,1260.45 M562.8,1259.09 L566.55,1258.85 L570.3,1258.61 L574.05,1258.36 L577.8,1258.11 M591.65,1257.16 L591.75,1257.15 M604.1,1256.26 L607.5,1256.01 L610.9,1255.76 L614.3,1255.5 L617.7,1255.24 M634.45,1253.91 L634.55,1253.9 M653.35,1252.32 L653.45,1252.31 M671.6,1250.7 L675.17,1250.37 L678.73,1250.04 L682.3,1249.71 M699.95,1248.02 L700.05,1248.01 M714.95,1246.51 L715.05,1246.5" fill="none" stroke="#8000ff" stroke-width="5.6" stroke-linecap="round" stroke-linejoin="round"/>
</g>
<text x="480.05" y="1414" font-size="59.2" text-anchor="middle"><tspan font-style="italic">S</tspan>q/<tspan font-style="italic">R</tspan> (10<tspan font-size="39" dy="-22">-3</tspan><tspan dy="22">)</tspan></text>
<text transform="translate(45,1141) rotate(-90)" font-size="58"><tspan x="0" font-style="italic">δ</tspan><tspan x="25.27" y="15.2" font-size="40">H</tspan><tspan x="56.75" y="0">/</tspan><tspan x="72.47" y="0" font-style="italic">μ</tspan><tspan x="104.79" y="15.2" font-size="40">H</tspan><tspan x="147.57" y="0" font-size="59">(%)</tspan></text>
</g>
<g id="plot-d">
<rect x="1043.2" y="773.5" width="644.6" height="502" fill="#fff" stroke="#000" stroke-width="3.8"/>
<path d="M1123.78,1275.5 v-7.5 M1123.78,773.5 v7.5 M1204.35,1275.5 v-15 M1204.35,773.5 v15 M1284.92,1275.5 v-7.5 M1284.92,773.5 v7.5 M1365.5,1275.5 v-15 M1365.5,773.5 v15 M1446.08,1275.5 v-7.5 M1446.08,773.5 v7.5 M1526.65,1275.5 v-15 M1526.65,773.5 v15 M1607.22,1275.5 v-7.5 M1607.22,773.5 v7.5 M1043.2,1212.75 h7.5 M1687.8,1212.75 h-7.5 M1043.2,1150 h15 M1687.8,1150 h-15 M1043.2,1087.25 h7.5 M1687.8,1087.25 h-7.5 M1043.2,1024.5 h15 M1687.8,1024.5 h-15 M1043.2,961.75 h7.5 M1687.8,961.75 h-7.5 M1043.2,899 h15 M1687.8,899 h-15 M1043.2,836.25 h7.5 M1687.8,836.25 h-7.5" stroke="#000" stroke-width="3.5" fill="none"/>
<text transform="translate(1043.2,1330.4) scale(1,1.025)" font-size="51.6" text-anchor="middle">1.2</text>
<text transform="translate(1204.35,1330.4) scale(1,1.025)" font-size="51.6" text-anchor="middle">1.6</text>
<text transform="translate(1365.5,1330.4) scale(1,1.025)" font-size="51.6" text-anchor="middle">2.0</text>
<text transform="translate(1526.65,1330.4) scale(1,1.025)" font-size="51.6" text-anchor="middle">2.4</text>
<text transform="translate(1687.8,1330.4) scale(1,1.025)" font-size="51.6" text-anchor="middle">2.8</text>
<text transform="translate(1027.1,1290.1) scale(1,1.025)" font-size="51.6" text-anchor="end">0</text>
<text transform="translate(1027.1,1164.6) scale(1,1.025)" font-size="51.6" text-anchor="end">10</text>
<text transform="translate(1027.1,1039.1) scale(1,1.025)" font-size="51.6" text-anchor="end">20</text>
<text transform="translate(1027.1,913.6) scale(1,1.025)" font-size="51.6" text-anchor="end">30</text>
<text transform="translate(1027.1,788.1) scale(1,1.025)" font-size="51.6" text-anchor="end">40</text>
<g clip-path="url(#clipd)">
<rect x="1086.45" y="1171.61" width="25.3" height="25.3" fill="#000000"/>
<rect x="1263.74" y="1139.99" width="25.3" height="25.3" fill="#000000"/>
<rect x="1432.98" y="1086.4" width="25.3" height="25.3" fill="#000000"/>
<rect x="1594.15" y="864.14" width="25.3" height="25.3" fill="#000000"/>
<circle cx="1099.1" cy="1255.92" r="14.25" fill="#ff0000"/>
<circle cx="1276.39" cy="1235.97" r="14.25" fill="#ff0000"/>
<circle cx="1445.63" cy="1229.44" r="14.25" fill="#ff0000"/>
<circle cx="1606.8" cy="1195.93" r="14.25" fill="#ff0000"/>
<polygon points="1082.1,1253.48 1116.1,1253.48 1099.1,1283.78" fill="#0000ff" stroke="#0000ff" stroke-width="1" stroke-linejoin="round"/>
<polygon points="1259.39,1248.21 1293.39,1248.21 1276.39,1278.51" fill="#0000ff" stroke="#0000ff" stroke-width="1" stroke-linejoin="round"/>
<polygon points="1428.63,1235.91 1462.63,1235.91 1445.63,1266.21" fill="#0000ff" stroke="#0000ff" stroke-width="1" stroke-linejoin="round"/>
<polygon points="1589.8,1201.14 1623.8,1201.14 1606.8,1231.44" fill="#0000ff" stroke="#0000ff" stroke-width="1" stroke-linejoin="round"/>
<polygon points="1099.1,1245.1 1102.83,1256.56 1114.89,1256.57 1105.13,1263.65 1108.86,1275.12 1099.1,1268.04 1089.34,1275.12 1093.07,1263.65 1083.31,1256.57 1095.37,1256.56" fill="#8000ff" stroke="#8000ff" stroke-width="0.8" stroke-linejoin="round"/>
<polygon points="1276.39,1244.22 1280.12,1255.69 1292.18,1255.69 1282.42,1262.78 1286.15,1274.25 1276.39,1267.16 1266.63,1274.25 1270.36,1262.78 1260.6,1255.69 1272.66,1255.69" fill="#8000ff" stroke="#8000ff" stroke-width="0.8" stroke-linejoin="round"/>
<polygon points="1445.63,1242.33 1449.35,1253.8 1461.41,1253.8 1451.66,1260.89 1455.38,1272.36 1445.63,1265.28 1435.87,1272.36 1439.59,1260.89 1429.84,1253.8 1441.9,1253.8" fill="#8000ff" stroke="#8000ff" stroke-width="0.8" stroke-linejoin="round"/>
<polygon points="1606.8,1231.92 1610.53,1243.39 1622.59,1243.39 1612.83,1250.48 1616.56,1261.95 1606.8,1254.86 1597.04,1261.95 1600.77,1250.48 1591.01,1243.39 1603.07,1243.39" fill="#8000ff" stroke="#8000ff" stroke-width="0.8" stroke-linejoin="round"/>
<polyline points="1099.1,1176.78 1107.56,1179.22 1116.02,1181.41 1124.48,1183.35 1132.95,1185.05 1141.41,1186.5 1149.87,1187.7 1158.33,1188.65 1166.79,1189.36 1175.25,1189.82 1183.72,1190.03 1192.18,1190 1200.64,1189.72 1209.1,1189.19 1217.56,1188.41 1226.02,1187.39 1234.49,1186.12 1242.95,1184.6 1251.41,1182.84 1259.87,1180.82 1268.33,1178.56 1276.79,1176.06 1285.26,1173.3 1293.72,1170.3 1302.18,1167.05 1310.64,1163.56 1319.1,1159.81 1327.56,1155.82 1336.03,1151.58 1344.49,1147.1 1352.95,1142.37 1361.41,1137.39 1369.87,1132.16 1378.34,1126.69 1386.8,1120.96 1395.26,1115 1403.72,1108.78 1412.18,1102.32 1420.64,1095.61 1429.11,1088.65 1437.57,1081.44 1446.03,1073.99 1454.49,1066.29 1462.95,1058.35 1471.41,1050.15 1479.88,1041.71 1488.34,1033.02 1496.8,1024.09 1505.26,1014.9 1513.72,1005.47 1522.18,995.79 1530.64,985.87 1539.11,975.7 1547.57,965.28 1556.03,954.61 1564.49,943.7 1572.95,932.54 1581.41,921.13 1589.88,909.47 1598.34,897.57 1606.8,885.42" fill="none" stroke="#000000" stroke-width="5.6" stroke-linecap="round" stroke-linejoin="round"/>
<path d="M1099.3,1253.98 L1102.54,1253.84 L1105.78,1253.69 L1109.02,1253.54 L1112.26,1253.38 L1115.5,1253.23 M1145.9,1251.62 L1149.8,1251.4 L1153.7,1251.17 L1157.6,1250.94 L1161.5,1250.71 M1189.3,1248.92 L1193.08,1248.66 L1196.85,1248.4 L1200.62,1248.14 L1204.4,1247.87 M1233.8,1245.65 L1237.1,1245.39 L1240.4,1245.12 L1243.7,1244.85 L1247,1244.58 M1272.8,1242.36 L1276.4,1242.04 L1280,1241.71 L1283.6,1241.38 L1287.2,1241.05 M1309.1,1238.95 L1312.95,1238.57 L1316.8,1238.18 L1320.65,1237.79 L1324.5,1237.4 M1346.8,1235.04 L1350.25,1234.67 L1353.7,1234.29 L1357.15,1233.91 L1360.6,1233.52 M1390.2,1230.1 L1393.65,1229.68 L1397.1,1229.27 L1400.55,1228.85 L1404,1228.42 M1427.4,1225.47 L1430.6,1225.06 L1433.8,1224.64 L1437,1224.22 L1440.2,1223.8 M1461.1,1220.97 L1465.02,1220.43 L1468.95,1219.88 L1472.88,1219.33 L1476.8,1218.78 M1486.5,1217.39 L1490.4,1216.82 L1494.3,1216.26 L1498.2,1215.68 L1502.1,1215.11 M1527.4,1211.27 L1530.75,1210.75 L1534.1,1210.23 L1537.45,1209.7 L1540.8,1209.17 M1562.6,1205.66 L1566,1205.1 L1569.4,1204.54 L1572.8,1203.97 L1576.2,1203.4 M1603.3,1198.77 L1603.7,1198.7" fill="none" stroke="#ff0000" stroke-width="5.6" stroke-linecap="round" stroke-linejoin="round"/>
<path d="M1099.75,1262.78 L1099.85,1262.78 M1127.85,1263.6 L1127.95,1263.61 M1156.95,1264.01 L1157.05,1264.01 M1185.25,1263.97 L1185.35,1263.96 M1213.65,1263.49 L1213.75,1263.48 M1241.95,1262.58 L1242.05,1262.57 M1270.05,1261.25 L1270.15,1261.24 M1297.55,1259.53 L1297.65,1259.53 M1319.35,1257.89 L1319.45,1257.88 M1344.45,1255.67 L1344.55,1255.66 M1366.25,1253.47 L1366.35,1253.46 M1391.35,1250.62 L1391.45,1250.61 M1413.35,1247.85 L1413.45,1247.83 M1436.95,1244.58 L1437.05,1244.56 M1460.35,1241.04 L1460.45,1241.02 M1479.75,1237.88 L1479.85,1237.86 M1488.35,1236.42 L1488.45,1236.4 M1508.85,1232.77 L1508.95,1232.75 M1529.45,1228.87 L1529.55,1228.85 M1551.75,1224.39 L1551.85,1224.37 M1572.85,1219.91 L1572.95,1219.89 M1592.95,1215.41 L1593.05,1215.39" fill="none" stroke="#0000ff" stroke-width="5.6" stroke-linecap="round" stroke-linejoin="round"/>
<path d="M1099.3,1261.32 L1102.75,1261.38 L1106.2,1261.44 L1109.65,1261.51 L1113.1,1261.56 M1132.25,1261.85 L1132.35,1261.86 M1151.05,1262.08 L1151.15,1262.08 M1166.8,1262.22 L1169.97,1262.24 L1173.15,1262.26 L1176.33,1262.28 L1179.5,1262.3 M1198.85,1262.37 L1198.95,1262.37 M1217.85,1262.38 L1217.95,1262.38 M1237.4,1262.33 L1240.77,1262.31 L1244.15,1262.29 L1247.53,1262.27 L1250.9,1262.25 M1270.95,1262.08 L1271.05,1262.08 M1289.05,1261.87 L1289.15,1261.86 M1309.1,1261.56 L1312.3,1261.51 L1315.5,1261.45 L1318.7,1261.39 M1337.65,1261.01 L1337.75,1261.01 M1356.75,1260.57 L1356.85,1260.57 M1376.1,1260.05 L1379.83,1259.95 L1383.57,1259.84 L1387.3,1259.72 M1405.45,1259.15 L1405.55,1259.14 M1421.15,1258.6 L1421.25,1258.6 M1440.8,1257.86 L1443.9,1257.74 L1447,1257.61 L1450.1,1257.49 L1453.2,1257.36 M1467.65,1256.74 L1467.75,1256.74 M1486.5,1255.88 L1489.86,1255.72 L1493.22,1255.56 L1496.58,1255.4 L1499.94,1255.23 L1503.3,1255.06 M1518.45,1254.29 L1518.55,1254.28 M1537.75,1253.24 L1537.85,1253.23 M1557.4,1252.1 L1560.77,1251.9 L1564.15,1251.7 L1567.53,1251.49 L1570.9,1251.29 M1589.85,1250.09 L1589.95,1250.08 M1603.95,1249.15 L1604.05,1249.15" fill="none" stroke="#8000ff" stroke-width="5.6" stroke-linecap="round" stroke-linejoin="round"/>
</g>
<text x="1365.3" y="1414" font-size="59.2" text-anchor="middle"><tspan font-style="italic">S</tspan>q/<tspan font-style="italic">R</tspan> (10<tspan font-size="39" dy="-22">-3</tspan><tspan dy="22">)</tspan></text>
<text transform="translate(930.5,1141) rotate(-90)" font-size="58"><tspan x="0" font-style="italic">δ</tspan><tspan x="25.27" y="15.2" font-size="40">H</tspan><tspan x="56.75" y="0">/</tspan><tspan x="72.47" y="0" font-style="italic">μ</tspan><tspan x="104.79" y="15.2" font-size="40">H</tspan><tspan x="147.57" y="0" font-size="59">(%)</tspan></text>
</g>
<text x="202.2" y="196.6" font-size="53">AA 7075</text>
<text x="188.9" y="868.5" font-size="53">AA 7075</text>
<text x="1096.6" y="181.4" font-size="53">steel 316L</text>
<text x="1071.5" y="856.7" font-size="53">steel 316L</text>
<text x="27.3" y="702.6" font-size="72">(a)</text>
<text x="933.5" y="729" font-size="72">(b)</text>
<text x="39" y="1414" font-size="72">(c)</text>
<text x="937.3" y="1411" font-size="72">(d)</text>
</svg></body></html>
